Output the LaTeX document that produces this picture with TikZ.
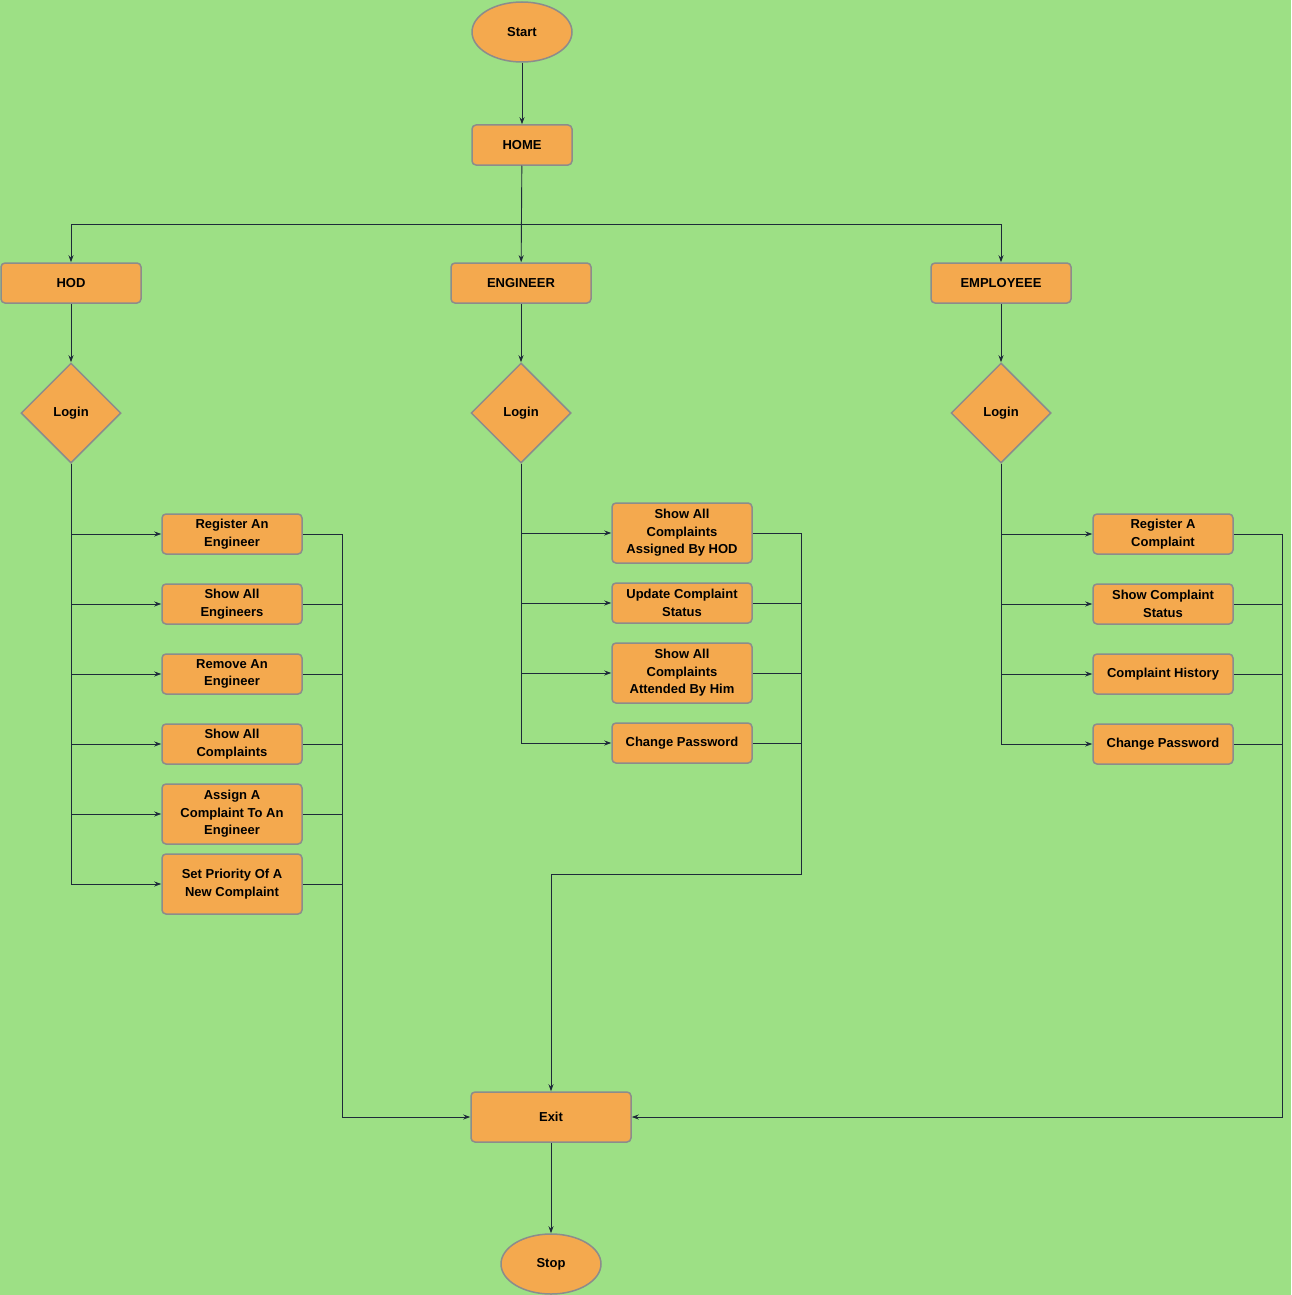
\documentclass[tikz,border=0pt]{standalone}
\usepackage{fontspec}
\setmainfont{Liberation Sans}
\usetikzlibrary{shapes.geometric,arrows.meta}
\definecolor{bg}{HTML}{9DE085}
\definecolor{nf}{HTML}{F4A94E}
\definecolor{nd}{HTML}{8C8C8C}
\definecolor{ln}{HTML}{1E2A3A}
\begin{document}
\begin{tikzpicture}[x=1pt,y=-1pt,
 box/.style={draw=nd,line width=1.5pt,fill=nf,rounded corners=4pt,minimum width=140pt,minimum height=40pt,inner sep=1pt,align=center,font=\fontsize{13}{17.5}\selectfont\bfseries},
 oval/.style={ellipse,draw=nd,line width=1.5pt,fill=nf,minimum width=100pt,minimum height=60pt,font=\fontsize{13}{16}\selectfont\bfseries},
 dia/.style={diamond,draw=nd,line width=1.5pt,fill=nf,minimum width=100pt,minimum height=100pt,inner sep=0pt,font=\fontsize{13}{16}\selectfont\bfseries},
 con/.style={draw=ln,line width=0.9pt},
 arr/.style={con,-{Stealth[length=7pt,width=5pt]}}]
\fill[bg] (0,0) rectangle (1291,1295);
\useasboundingbox (0,0) rectangle (1291,1295);
\node[oval] (start) at (522,32) {Start};
\node[box,minimum width=100pt] (home) at (522,145) {HOME};
\node[box] (hod) at (71,283) {HOD};
\node[box] (eng) at (521,283) {ENGINEER};
\node[box] (emp) at (1001,283) {EMPLOYEEE};
\node[dia] (l1) at (71,413) {Login};
\node[dia] (l2) at (521,413) {Login};
\node[dia] (l3) at (1001,413) {Login};
\node[box] (h1) at (232,534) {Register An\\Engineer};
\node[box] (h2) at (232,604) {Show All\\Engineers};
\node[box] (h3) at (232,674) {Remove An\\Engineer};
\node[box] (h4) at (232,744) {Show All\\Complaints};
\node[box,minimum height=60pt] (h5) at (232,814) {Assign A\\Complaint To An\\Engineer};
\node[box,minimum height=60pt] (h6) at (232,884) {Set Priority Of A\\New Complaint};
\node[box,minimum height=60pt] (e1) at (682,533) {Show All\\Complaints\\Assigned By HOD};
\node[box] (e2) at (682,603) {Update Complaint\\Status};
\node[box,minimum height=60pt] (e3) at (682,673) {Show All\\Complaints\\Attended By Him};
\node[box] (e4) at (682,743) {Change Password};
\node[box] (m1) at (1163,534) {Register A\\Complaint};
\node[box] (m2) at (1163,604) {Show Complaint\\Status};
\node[box] (m3) at (1163,674) {Complaint History};
\node[box] (m4) at (1163,744) {Change Password};
\node[box,minimum width=160pt,minimum height=50pt] (exit) at (551,1117) {Exit};
\node[oval] (stop) at (551,1264) {Stop};
\coordinate (split) at (522,224);
\coordinate (eb) at (801,874);
\draw[arr] (start) -- (home);
\draw[arr] (home) -- (eng);
\draw[arr] (split) -| (hod);
\draw[arr] (split) -| (emp);
\draw[arr] (hod) -- (l1);
\draw[arr] (eng) -- (l2);
\draw[arr] (emp) -- (l3);
\foreach \n in {h1,h2,h3,h4,h5,h6} \draw[arr] (l1.south) |- (\n.west);
\foreach \n in {e1,e2,e3,e4} \draw[arr] (l2.south) |- (\n.west);
\foreach \n in {m1,m2,m3,m4} \draw[arr] (l3.south) |- (\n.west);
\foreach \n in {h2,h3,h4,h5,h6} \draw[con] (\n.east) -- ++(40,0);
\draw[arr] (h1.east) -- ++(40,0) |- (exit.west);
\foreach \n in {e2,e3,e4} \draw[con] (\n.east) -- ++(49,0);
\draw[arr] (e1.east) -- ++(49,0) |- (eb) -| (exit.north);
\foreach \n in {m2,m3,m4} \draw[con] (\n.east) -- ++(49,0);
\draw[arr] (m1.east) -- ++(49,0) |- (exit.east);
\draw[arr] (exit) -- (stop);
\end{tikzpicture}
\end{document}
